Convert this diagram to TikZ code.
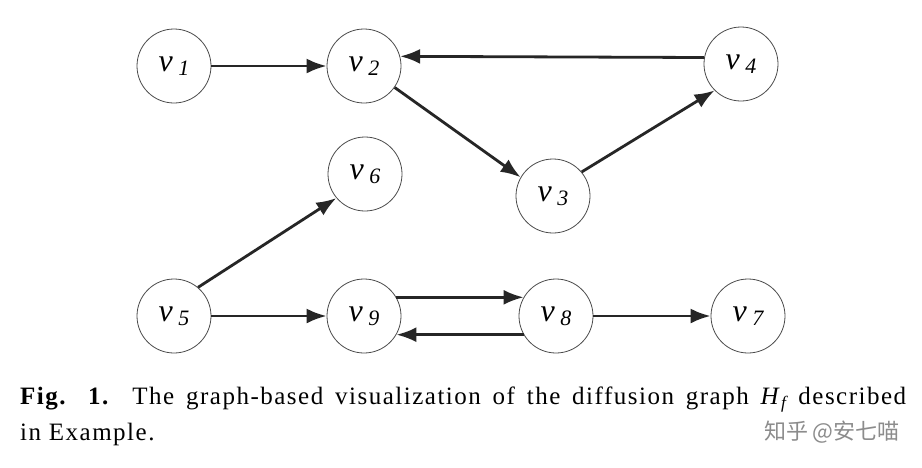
\documentclass[tikz,border=0pt]{standalone}
\usepackage{fontspec}
\setmainfont{Liberation Serif}
\newfontfamily\cjk{Noto Sans CJK SC}
\usetikzlibrary{arrows.meta}
\newcommand{\vlab}[1]{\itshape v\,\raisebox{-4pt}{\fontsize{22}{22}\selectfont #1}}
\begin{document}
\begin{tikzpicture}[x=1pt,y=-1pt,
  vx/.style={circle,draw=black!70,line width=0.8pt,minimum size=74pt,inner sep=0pt,font=\fontsize{32}{32}\selectfont},
  ar/.style={line width=2.8pt,draw=black!85,-{Latex[length=20pt,width=15pt]}}]
\useasboundingbox (0,0) rectangle (922,467);
\fill[white] (0,0) rectangle (922,467);
\node[vx] (v1) at (174,66) {\vlab{1}};
\node[vx] (v2) at (364,66) {\vlab{2}};
\node[vx] (v4) at (741,64) {\vlab{4}};
\node[vx] (v3) at (553,196) {\vlab{3}};
\node[vx] (v6) at (365,174) {\vlab{6}};
\node[vx] (v5) at (174,316) {\vlab{5}};
\node[vx] (v9) at (364,316) {\vlab{9}};
\node[vx] (v8) at (556,316) {\vlab{8}};
\node[vx] (v7) at (748,316) {\vlab{7}};
\draw[ar] (v1.east) -- (v2.west);
\draw[ar] (v4.170) -- (v2.15);
\draw[ar] (v2.-35) -- (v3.150);
\draw[ar] (v3.40) -- (v4.-135);
\draw[ar] (v5.50) -- (v6.-140);
\draw[ar] (v5.east) -- (v9.west);
\draw[ar] (v9.30) -- (v8.150);
\draw[ar] (v8.-150) -- (v9.-30);
\draw[ar] (v8.east) -- (v7.west);
\node[anchor=north west,text width=886pt,align=justify,inner sep=0pt,font=\fontsize{25}{36}\selectfont\addfontfeature{LetterSpace=6}] (cap) at (20,387)
 {\textbf{Fig. 1.} The graph-based visualization of the diffusion graph \textit{H}$_{\mathit f}$ described\linebreak in Example.};
\node[anchor=east,inner sep=0pt,text=black!45,font=\cjk\fontsize{22}{22}\selectfont] (wm) at (900,432) {知乎 @安七喵};
\end{tikzpicture}
\end{document}
